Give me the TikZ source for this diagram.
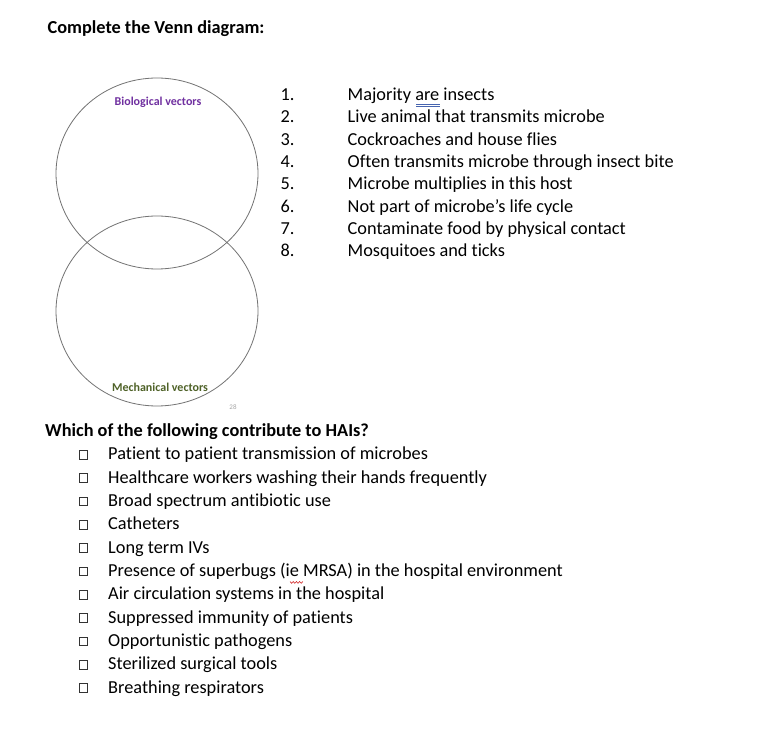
\documentclass[tikz,border=0pt]{standalone}
\usepackage{fontspec}
\setmainfont{Carlito}[Ligatures={NoCommon,NoContextual}]
\definecolor{biopurple}{RGB}{112,48,160}
\definecolor{mechgreen}{RGB}{79,98,40}
\definecolor{circgray}{RGB}{115,115,115}
\definecolor{gramblue}{RGB}{70,100,175}
\definecolor{spellred}{RGB}{210,40,40}
\begin{document}
\begin{tikzpicture}[x=1pt,y=-1pt,
  body/.style={anchor=base west, inner sep=0pt, font=\fontsize{18.3}{22}\selectfont},
  bodyb/.style={anchor=base west, inner sep=0pt, font=\fontsize{18.3}{22}\selectfont\bfseries},
  vlabel/.style={inner sep=0pt, font=\fontsize{12}{14}\selectfont\bfseries},
  venn/.style={draw=circgray, line width=0.8pt},
  cbox/.style={draw=black!80, line width=0.55pt, minimum width=7.6pt, minimum height=8.6pt, inner sep=0pt, anchor=south west}]
\useasboundingbox[fill=white] (0,0) rectangle (764,730);

% title
\node[bodyb] (title) at (47.5,33.3) {Complete the Venn diagram:};

% Venn diagram
\draw[venn] (157,173.5) ellipse [x radius=101, y radius=95.5];
\draw[venn] (157,311) ellipse [x radius=101, y radius=95];
\node[vlabel, text=biopurple] (bio) at (158,102) {Biological vectors};
\node[vlabel, text=mechgreen] (mech) at (160,387) {Mechanical vectors};
\node[inner sep=0pt, text=black!35, font=\fontsize{7}{8}\selectfont] (pg) at (233,407) {28};

% numbered list
\foreach \n/\t [count=\i from 0] in {1/{Majority are insects},
  2/{Live animal that transmits microbe},
  3/{Cockroaches and house flies},
  4/{Often transmits microbe through insect bite},
  5/{Microbe multiplies in this host},
  6/{Not part of microbe’s life cycle},
  7/{Contaminate food by physical contact},
  8/{Mosquitoes and ticks}}{
  \node[body] (num\n) at (280.5,100.7+22.3*\i) {\n.};
  \node[body] (item\n) at (347.5,100.7+22.3*\i) {\t};
}
% grammar double underline under "are"
\draw[gramblue, line width=0.6pt] (416,104.6) -- (439.5,104.6);
\draw[gramblue, line width=0.6pt] (416,106.6) -- (439.5,106.6);

% question
\node[bodyb] (q) at (45,436.7) {Which of the following contribute to HAIs?};
\foreach \t [count=\i from 0] in {{Patient to patient transmission of microbes},
  {Healthcare workers washing their hands frequently},
  {Broad spectrum antibiotic use},
  {Catheters},
  {Long term IVs},
  {Presence of superbugs (ie MRSA) in the hospital environment},
  {Air circulation systems in the hospital},
  {Suppressed immunity of patients},
  {Opportunistic pathogens},
  {Sterilized surgical tools},
  {Breathing respirators}}{
  \node[cbox] (box\i) at (79.2,459.3+23.33*\i) {};
  \node[body] (opt\i) at (108,460+23.33*\i) {\t};
}
% spelling squiggle under "ie"
\draw[spellred, line width=0.6pt] (290,581.5) -- (291.6,583.3) -- (293.2,581.5) -- (294.8,583.3) -- (296.4,581.5) -- (298,583.3) -- (299.6,581.5) -- (301.2,583.3) -- (302.8,581.5);
\end{tikzpicture}
\end{document}
